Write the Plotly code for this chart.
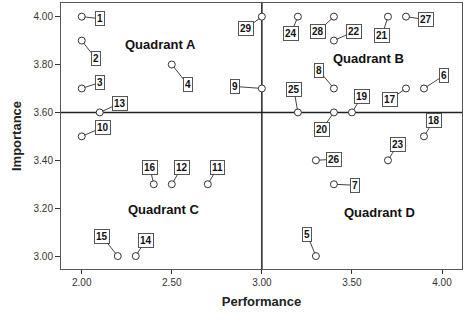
import plotly.graph_objects as go

# Data
ids = [1, 2, 3, 4, 5, 6, 7, 8, 9, 10, 11, 12, 13, 14, 15, 16, 17, 18, 19, 20,
       21, 22, 23, 24, 25, 26, 27, 28, 29]
performance = [2.0, 2.0, 2.0, 2.5, 3.3, 3.9, 3.4, 3.4, 3.0, 2.0, 2.7, 2.5, 2.1, 2.3, 2.2, 2.4, 3.8, 3.9, 3.5, 3.4,
               3.7, 3.4, 3.7, 3.2, 3.2, 3.3, 3.8, 3.4, 3.0]
importance = [4.0, 3.9, 3.7, 3.8, 3.0, 3.7, 3.3, 3.7, 3.7, 3.5, 3.3, 3.3, 3.6, 3.0, 3.0, 3.3, 3.7, 3.5, 3.6, 3.6,
              4.0, 3.9, 3.4, 4.0, 3.6, 3.4, 4.0, 4.0, 4.0]
quadrant_names = ["Quadrant A", "Quadrant B", "Quadrant C", "Quadrant D"]
quadrant_x = [2.435, 3.592, 2.453, 3.652]
quadrant_y = [3.882, 3.826, 3.193, 3.183]
x_ticks = [2.0, 2.5, 3.0, 3.5, 4.0]
y_ticks = [3.0, 3.2, 3.4, 3.6, 3.8, 4.0]
perf_mean = 3.0
imp_mean = 3.6

# Label placement (pixel offsets of label box from point)
label_offsets = {
    1: (18, 2), 2: (14, 18), 3: (18, -6), 4: (16, 20), 5: (-9, -22),
    6: (20, -13), 7: (21, 1), 8: (-15, -18), 9: (-27, -2), 10: (21, -9),
    11: (10, -17), 12: (10, -17), 13: (20, -9), 14: (10, -16), 15: (-16, -20),
    16: (-4, -17), 17: (-16, 11), 18: (10, -16), 19: (10, -16), 20: (-12, 17),
    21: (-6, 19), 22: (20, -9), 23: (10, -16), 24: (-7, 17), 25: (-4, -23),
    26: (18, -1), 27: (20, 3), 28: (-16, 15), 29: (-16, 12),
}

fig = go.Figure()
fig.add_trace(go.Scatter(
    x=performance, y=importance, mode="markers",
    marker=dict(symbol="circle", size=7, color="white",
                line=dict(color="#333333", width=1)),
    hoverinfo="skip", showlegend=False,
))

annotations = []
for i, px, py in zip(ids, performance, importance):
    ax, ay = label_offsets[i]
    annotations.append(dict(
        x=px, y=py, xref="x", yref="y", ax=ax, ay=ay,
        text="<b>%d</b>" % i, showarrow=True, arrowhead=0, arrowwidth=1,
        arrowcolor="#444444", standoff=3,
        font=dict(family="Arial", size=10, color="#111111"),
        bgcolor="white", bordercolor="#555555", borderwidth=1, borderpad=1,
    ))
for name, qx, qy in zip(quadrant_names, quadrant_x, quadrant_y):
    annotations.append(dict(
        x=qx, y=qy, xref="x", yref="y", text="<b>%s</b>" % name, showarrow=False,
        font=dict(family="Arial", size=13, color="#111111"),
    ))

fig.update_layout(
    width=474, height=323,
    margin=dict(l=61, r=12, t=3, b=54),
    paper_bgcolor="white", plot_bgcolor="white",
    annotations=annotations,
    shapes=[
        dict(type="line", xref="x", yref="paper", x0=perf_mean, x1=perf_mean, y0=0, y1=1,
             line=dict(color="#222222", width=1.5), layer="below"),
        dict(type="line", xref="paper", yref="y", x0=0, x1=1, y0=imp_mean, y1=imp_mean,
             line=dict(color="#222222", width=1.5), layer="below"),
    ],
    xaxis=dict(
        range=[1.885, 4.111], tickvals=x_ticks, tickformat=".2f",
        ticks="outside", ticklen=4, tickcolor="#333333",
        showgrid=False, zeroline=False,
        showline=True, mirror=True, linecolor="#555555", linewidth=1,
        tickfont=dict(family="Arial", size=10, color="#333333"),
        title=dict(text="<b>Performance</b>", standoff=9,
                   font=dict(family="Arial", size=13, color="#222222")),
    ),
    yaxis=dict(
        range=[2.946, 4.057], tickvals=y_ticks, tickformat=".2f",
        ticks="outside", ticklen=5, tickcolor="#333333",
        showgrid=False, zeroline=False,
        showline=True, mirror=True, linecolor="#555555", linewidth=1,
        tickfont=dict(family="Arial", size=10, color="#333333"),
        title=dict(text="<b>Importance</b>", standoff=8,
                   font=dict(family="Arial", size=13, color="#222222")),
    ),
)

fig.write_html("out.html")
